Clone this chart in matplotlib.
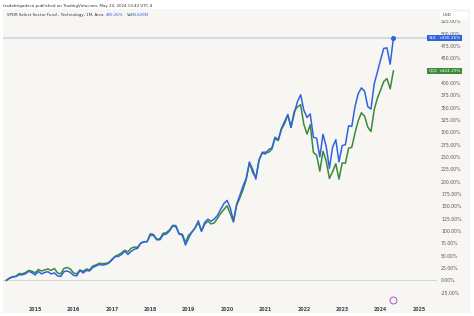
import matplotlib
matplotlib.use('Agg')
import matplotlib.pyplot as plt
import matplotlib.transforms as mtransforms
from matplotlib.patches import Rectangle
import pandas as pd

# monthly closes, % change since April 2014
months = pd.date_range('2014-04-01', '2024-05-01', freq='MS')
xlk_pct = [
    0, 4.5, 6.7, 7.5, 11.4, 11.1, 13.4, 18.4, 15.3,
    11, 18, 13, 16, 17.5, 13, 15, 9, 8, 17.5, 19, 16,
    10, 9, 20, 15, 20, 19, 26, 29, 32, 31, 32, 34.8,
    41, 48.2, 48.5, 52.1, 59, 52.4, 58.5, 63, 64.6, 75.5, 78.3, 78.3,
    91.4, 90.8, 82.2, 82.2, 92.2, 93.6, 100, 110, 108.7, 93.9, 91.4, 71.5,
    85.8, 98, 106, 120.6, 99.7, 117.3, 123.7, 119.8, 124.2, 131.5, 143.7, 155.4,
    162, 147, 120, 154.6, 172.4, 191, 207, 239, 225, 205, 243.7, 258,
    256, 265, 268, 290, 285, 308, 322, 336, 310, 338, 362, 376,
    345, 330, 337, 290, 288, 250, 296, 271, 227, 270, 285, 240,
    273, 275, 313, 312, 352, 378, 390, 383, 352, 347, 398, 422,
    447, 470, 471, 438, 490.26,
]
qqq_pct = [
    0, 4.3, 7.6, 8.3, 13.8, 13.2, 15.7, 20.1, 18.4,
    15, 22, 19, 21, 23, 20, 24, 15, 13, 24, 26, 23,
    15, 13, 21, 18, 23, 21, 29, 31, 34.5, 33.8, 34.3, 35.8,
    42.6, 48.5, 51.7, 55.5, 61.0, 57.7, 64.9, 67.6, 66.7, 75.0, 77.6, 78.5,
    94.4, 92.9, 83.4, 84.2, 95.3, 96.7, 102.1, 111.4, 111, 94.5, 93.7, 76.8,
    91.7, 97.5, 105.9, 116.9, 99.5, 113.9, 119.8, 114.3, 116.3, 125.6, 135.6, 143.6,
    151.0, 135.1, 118.1, 151.9, 167.0, 183.7, 204.5, 239.2, 218.3, 208.7, 243.4, 259.4,
    259.8, 259.3, 265.6, 287.6, 283.0, 306.0, 317.7, 334.8, 310.1, 342.4, 351.4, 355.9,
    316.2, 296.3, 315.3, 259.0, 253.6, 221.2, 261.4, 242.0, 206.3, 220.3, 236.3, 205.1,
    237.9, 237.2, 267.7, 269.6, 298.5, 323.2, 339.6, 332.6, 310.5, 301.5, 345.5, 369.2,
    385.6, 403.0, 408.7, 387.9, 424.29,
]
year_ticks = list(range(2015, 2026))
pct_ticks = list(range(-25, 526, 25))
xlk_label = '+490.26%'
qqq_label = '+424.29%'

BLUE = '#2F64E0'
GREEN = '#3B8A3A'
BG = '#F8F6F2'
W, H = 474, 316


def main():
    fig = plt.figure(figsize=(W / 100, H / 100), dpi=100, facecolor='white')
    fig.patches.append(Rectangle((3.3 / W, 1 - 313 / H), (470 - 3.3) / W, (313 - 9.3) / H,
                                 transform=fig.transFigure, fc=BG, ec='none', zorder=-5))
    ax = fig.add_axes([3.3 / W, 1 - 304 / H, (437 - 3.3) / W, (304 - 18) / H])
    ax.set_facecolor('none')
    ax.set_zorder(1)

    x = months.year + (months.month - 1) / 12
    ax.axhline(0, color='#D6D6D6', lw=0.8, zorder=1)
    ax.axhline(xlk_pct[-1], color='#D3D9E6', lw=1.4, zorder=1)
    ax.plot(x, qqq_pct, color=GREEN, lw=1.1, zorder=3)
    ax.plot(x, xlk_pct, color=BLUE, lw=1.1, zorder=4)
    ax.plot(x[-1], xlk_pct[-1], 'o', color=BLUE, ms=2.6, zorder=5)
    ax.plot(x[-1], -40, 'o', mfc='none', mec='#A040C0', ms=5, mew=0.6, clip_on=False)

    ax.set_xlim(2014.17, 2025.47)
    ax.set_ylim(-48, 531.6)
    for s in ax.spines.values():
        s.set_visible(False)
    ax.set_xticks(year_ticks)
    ax.set_xticklabels([str(y) for y in year_ticks], fontsize=3.4, color='#444444',
                       fontweight='bold')
    ax.set_yticks(pct_ticks)
    # the 425% label sits under the QQQ price box
    ylabels = ['' if v == 425 else '%.2f%%' % v for v in pct_ticks]
    ax.set_yticklabels(ylabels, fontsize=3.3, color='#555555')
    ax.yaxis.tick_right()
    ax.tick_params(axis='both', length=0)
    ax.tick_params(axis='x', pad=2.4)
    ax.tick_params(axis='y', pad=2.9)

    # price labels on the right scale
    blend = mtransforms.blended_transform_factory(fig.transFigure, ax.transData)
    for name, val, lab, col in [('XLK', xlk_pct[-1], xlk_label, BLUE),
                                ('QQQ', qqq_pct[-1], qqq_label, GREEN)]:
        ax.text(428.5 / W, val, name, transform=blend, fontsize=3.1, color='white',
                va='center', ha='left', clip_on=False, zorder=6,
                bbox=dict(boxstyle='square,pad=0.25', fc=col, ec='none'))
        ax.text(438.5 / W, val, lab, transform=blend, fontsize=3.1, color='white',
                va='center', ha='left', clip_on=False, zorder=6,
                bbox=dict(boxstyle='square,pad=0.25', fc=col, ec='none'))

    # header texts
    fig.text(3 / W, 1 - 5.5 / H, 'tradebrigadeco published on TradingView.com, May 24, 2024 13:42 UTC-4',
             fontsize=2.9, color='#333333', va='center')
    fig.text(6.7 / W, 1 - 15 / H, 'SPDR Select Sector Fund - Technology, 1M, Arca',
             fontsize=2.9, color='#333333', va='center')
    fig.text(105.7 / W, 1 - 15 / H, '490.26%', fontsize=2.9, color=BLUE, va='center')
    fig.text(126.7 / W, 1 - 15 / H, 'Vol', fontsize=2.9, color='#333333', va='center')
    fig.text(132.2 / W, 1 - 15 / H, '93.626M', fontsize=2.9, color=BLUE, va='center')
    fig.patches.append(Rectangle((440 / W, 1 - 19.5 / H), 28 / W, 7.5 / H,
                                 transform=fig.transFigure, fc='white', ec='none', zorder=2))
    fig.text(443 / W, 1 - 15.5 / H, 'USD', fontsize=3, color='#333333', va='center', zorder=3)

    fig.savefig('out.png', dpi=100, facecolor='white')


if __name__ == '__main__':
    main()
